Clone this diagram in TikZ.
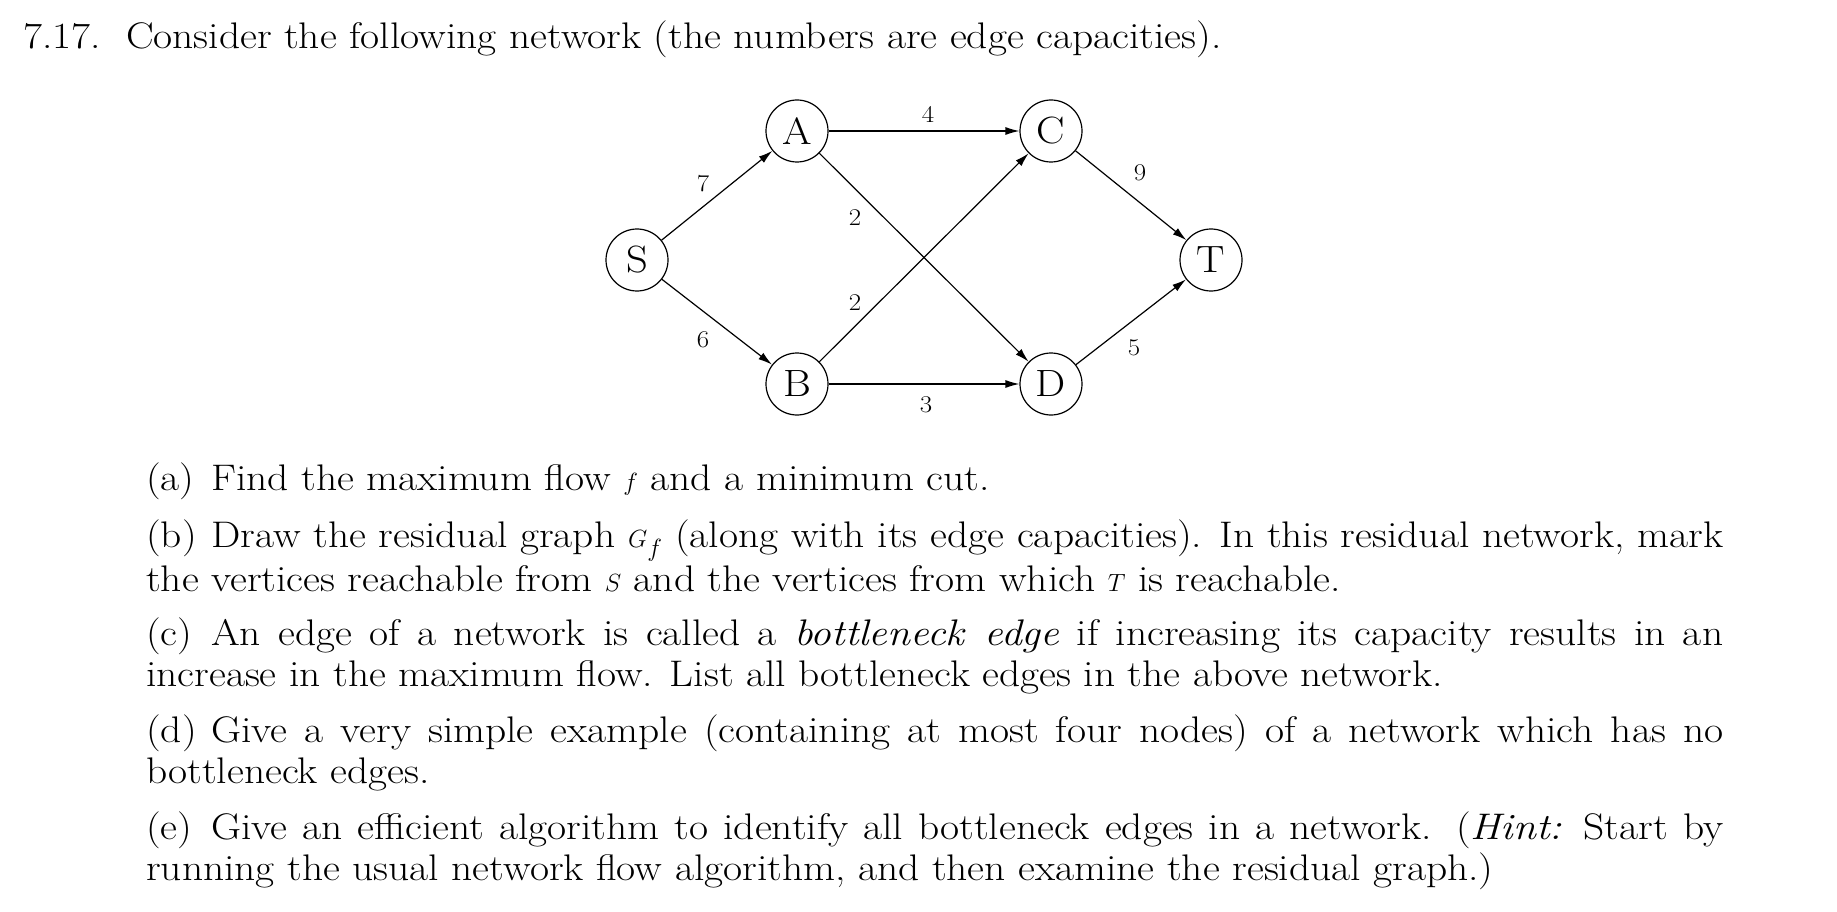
\documentclass[tikz,border=0pt]{standalone}
\usepackage{fontspec}
\setmainfont{Latin Modern Roman}[FakeStretch=1.12]
\usetikzlibrary{arrows.meta}
\begin{document}
\begin{tikzpicture}[x=1pt,y=-1pt,
  vx/.style={circle,draw,line width=1.2pt,minimum size=62pt,inner sep=0pt,font=\fontsize{38}{38}\selectfont},
  ed/.style={-{Latex[length=14pt,width=8pt]},line width=1.2pt},
  lb/.style={font=\fontsize{24}{24}\selectfont,inner sep=0pt},
  txt/.style={inner sep=0pt,font=\fontsize{37}{41}\selectfont}]
\useasboundingbox (0,0) rectangle (1837,912);
\node[txt,anchor=base west] (title) at (23,49) {7.17.\ \ Consider the following network (the numbers are edge capacities).};
\node[vx] (S) at (637,260) {S};
\node[vx] (A) at (797,131) {A};
\node[vx] (B) at (797,384) {B};
\node[vx] (C) at (1051,131) {C};
\node[vx] (D) at (1051,384) {D};
\node[vx] (T) at (1211,260) {T};
\draw[ed] (S) -- (A);
\draw[ed] (S) -- (B);
\draw[ed] (A) -- (C);
\draw[ed] (A) -- (D);
\draw[ed] (B) -- (C);
\draw[ed] (B) -- (D);
\draw[ed] (C) -- (T);
\draw[ed] (D) -- (T);
\node[lb] (l7) at (703,184) {7};
\node[lb] (l6) at (703,340) {6};
\node[lb] (l4) at (928,114) {4};
\node[lb] (l3) at (926,405) {3};
\node[lb] (l9) at (1140,173) {9};
\node[lb] (l5) at (1134,348) {5};
\node[lb] (l2a) at (855,218) {2};
\node[lb] (l2b) at (855,303) {2};
\foreach \n/\lab/\y/\t in {
 ia/(a)/491/{Find the maximum flow $f$ and a minimum cut.},
 ib/(b)/548/{Draw the residual graph $G_f$ (along with its edge capacities). In this residual network, mark the vertices reachable from $S$ and the vertices from which $T$ is reachable.},
 ic/(c)/646/{An edge of a network is called a \emph{bottleneck edge} if increasing its capacity results in an increase in the maximum flow. List all bottleneck edges in the above network.},
 id/(d)/743/{Give a very simple example (containing at most four nodes) of a network which has no bottleneck edges.},
 ie/(e)/840/{Give an efficient algorithm to identify all bottleneck edges in a network. (\emph{Hint:} Start by running the usual network flow algorithm, and then examine the residual graph.)}}{
 \node[txt,anchor=north west,text width=1577pt,align=justify] (\n) at (146,\y-29) {\hangindent=65pt\hangafter=1\strut\makebox[65pt][l]{\lab}\t\strut};
}
\end{tikzpicture}
\end{document}
